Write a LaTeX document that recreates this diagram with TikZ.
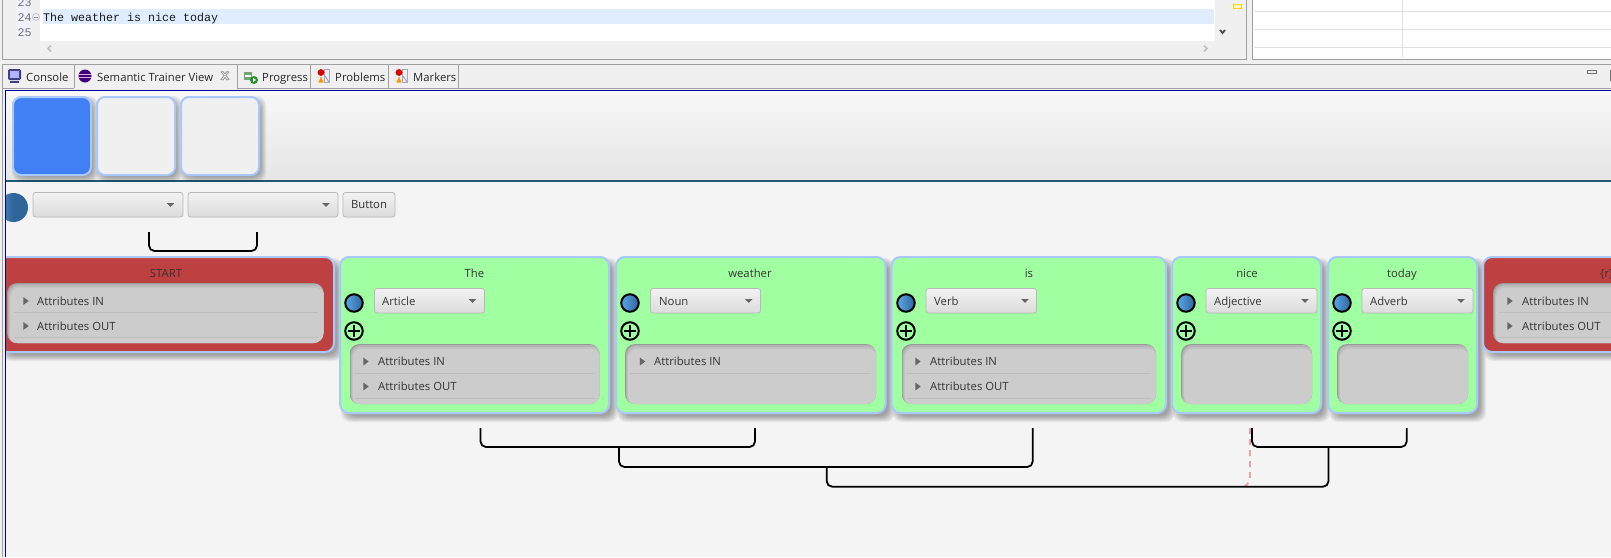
\documentclass[tikz,border=0pt]{standalone}
\usepackage{fontspec}
\setmainfont{Open Sans}
\newfontfamily\codefont{Liberation Mono}
\definecolor{panelbg}{HTML}{F0F0F0}
\definecolor{viewbg}{HTML}{F4F4F4}
\definecolor{frameg}{HTML}{A0A0A0}
\definecolor{cardgreen}{HTML}{A0FFA0}
\definecolor{cardred}{HTML}{BF4040}
\definecolor{cardline}{HTML}{A8C8FF}
\definecolor{inset}{HTML}{CCCCCC}
\definecolor{inktext}{HTML}{333333}
\definecolor{rowline}{HTML}{BDBDBD}
\definecolor{tileblue}{HTML}{4080F4}
\definecolor{ballhi}{HTML}{5AA6EA}
\definecolor{balllo}{HTML}{30659A}
\definecolor{toolline}{HTML}{1F5A70}
\definecolor{notepink}{HTML}{E8A0A0}
\tikzset{
  ui/.style={font=\fontsize{11.3}{13}\selectfont,text=inktext,inner sep=0pt},
  tabtext/.style={font=\fontsize{11.3}{13}\selectfont,text=black!85,inner sep=0pt,anchor=base west},
  boxbase/.style={inner sep=0pt,outer sep=0pt,anchor=north west},
  greencard/.style={boxbase,draw=cardline,line width=2pt,fill=cardgreen,rounded corners=9pt},
  redcard/.style={boxbase,draw=cardline,line width=2pt,fill=cardred,rounded corners=9pt},
  tile/.style={boxbase,draw=cardline,line width=2pt,rounded corners=8pt},
  combo/.style={boxbase,draw=black!28,line width=.8pt,rounded corners=2.5pt,top color=black!5,bottom color=black!14},
  link/.style={draw=black,line width=1.8pt,rounded corners=5.5pt},
  rednote/.style={draw=notepink,line width=1.8pt,dash pattern=on 6pt off 5pt},
  bullet/.style={circle,draw=black,line width=2pt,inner sep=0pt,minimum size=17.5pt,left color=ballhi,right color=balllo},
  plusmark/.style={circle,draw=black,line width=2pt,inner sep=0pt,minimum size=17.5pt},
  tiptri/.style={fill=black!60},
}
\newcommand{\softshadow}[5]{% x1 y1 x2 y2 offset
  \foreach \s in {4,3,2,1,0,-1,-2}{
    \fill[black,fill opacity=.055,rounded corners=9pt]
      ({#1+#5-\s},{#2+#5-\s}) rectangle ({#3+#5+\s},{#4+#5+\s});
  }}
\newcommand{\boxnode}[6]{% style name x1 y1 x2 y2
  \node[#1,minimum width={(#5-(#3))*1pt},minimum height={(#6-(#4))*1pt}] (#2) at (#3,#4) {};}
\newcommand{\sunken}[4]{% x1 x2 y1 y2
  \begin{scope}
    \clip[rounded corners=10pt] (#1,#3) rectangle (#2,#4);
    \fill[black!40] (#1,#3) rectangle (#2,#4);
    \fill[black!30,rounded corners=10pt] ({#1+1},{#3+1}) rectangle ({#2+2},{#4+1});
    \fill[black!25,rounded corners=10pt] ({#1+2},{#3+2.5}) rectangle ({#2+2},{#4+2});
    \fill[inset,rounded corners=10pt] ({#1+3},{#3+4.5}) rectangle ({#2+1},{#4+2});
  \end{scope}}
\newcommand{\attrrow}[6]{% name triangle-x text-x row-x2 y label
  \fill[tiptri] ({#2-2.7},{#5-4}) -- ({#2+2.7},#5) -- ({#2-2.7},{#5+4}) -- cycle;
  \node[ui,anchor=base west] (#1) at (#3,{#5+4}) {#6};}
\newcommand{\rowrule}[3]{\draw[rowline,line width=1pt] (#1,#3) -- (#2,#3);}
\newcommand{\combobox}[7]{% name x1 x2 y1 y2 label arrow-x
  \boxnode{combo}{#1}{#2}{#4}{#3}{#5}
  \fill[black!60] ({#7-3.8},{(#4+#5)/2-1.7}) -- ({#7+3.8},{(#4+#5)/2-1.7}) -- (#7,{(#4+#5)/2+2.2}) -- cycle;}
\newcommand{\comboword}[4]{\node[ui,anchor=base west] (#1) at (#2,{#3+4}) {#4};}
\newcommand{\ctrls}[2]{% name cx
  \node[bullet] (#1dot) at (#2,303) {};
  \node[plusmark] (#1plus) at (#2,331) {};
  \draw[black,line width=1.8pt] ({#2-6},331) -- ({#2+6},331) ({#2},325) -- ({#2},337);}
\newcommand{\problemicon}[1]{% left x
  \fill[black!7] (#1,68) rectangle ({#1+15},83);
  \draw[blue!25!black!35,line width=1pt] ({#1+9.5},69) rectangle ({#1+14},82);
  \draw[blue!25!black!35,line width=1pt] ({#1+10},76) -- ({#1+14},82);
  \fill[red!85!black] ({#1+6},72.5) circle (3.4);
  \fill[orange!85!yellow] ({#1+3.5},82.5) -- ({#1+6},76.5) -- ({#1+8.5},82.5) -- cycle;
}
\begin{document}
\begin{tikzpicture}[x=1pt,y=-1pt]
\useasboundingbox (0,0) rectangle (1611,557);
\begin{scope}
\clip (0,0) rectangle (1611,557);
\fill[panelbg] (0,0) rectangle (1611,557);
% ---- editor
\fill[white] (40,0) rectangle (1215,41);
\fill[black!8!blue!6] (17,0) rectangle (31,39);
\fill[blue!60!cyan!12] (43,9) rectangle (1214,24);
\node[font=\codefont\fontsize{11.67}{13}\selectfont,text=black!90,inner sep=0pt,anchor=base west] (code) at (43,21) {The weather is nice today};
\node[font=\codefont\fontsize{11.67}{13}\selectfont,text=black!55,inner sep=0pt,anchor=base west] (ln23) at (17.5,6) {23};
\node[font=\codefont\fontsize{11.67}{13}\selectfont,text=black!55,inner sep=0pt,anchor=base west] (ln24) at (17.5,21) {24};
\node[font=\codefont\fontsize{11.67}{13}\selectfont,text=black!55,inner sep=0pt,anchor=base west] (ln25) at (17.5,36) {25};
\draw[black!35!blue!25,fill=black!5,line width=.8pt] (36,17) circle (3.5);
\draw[black!45,line width=.8pt] (34,17) -- (38,17);
\draw[black!25,line width=1.6pt] (51,45.5) -- (48,48.5) -- (51,51.5);
\draw[black!25,line width=1.6pt] (1204,45.5) -- (1207,48.5) -- (1204,51.5);
\draw[black!70,line width=1.8pt] (1220,30) -- (1222.5,33) -- (1225,30);
\draw[yellow!70!orange,fill=yellow!25,line width=.8pt] (1233.5,4.3) rectangle (1241.5,8.7);
\draw[frameg,line width=1pt] (2.5,-2) -- (2.5,59.5) -- (1246.5,59.5) -- (1246.5,-2);
% ---- table
\fill[white] (1252,0) rectangle (1611,59);
\draw[black!12,line width=1pt] (1254,11.5) -- (1611,11.5) (1254,29.5) -- (1611,29.5) (1254,47.5) -- (1611,47.5) (1402.5,0) -- (1402.5,57);
\draw[frameg,line width=1pt] (1252,-2) -- (1252,59.5) -- (1613,59.5);
% ---- tab strip
\draw[frameg,line width=1pt] (2.5,88) -- (2.5,64.5) -- (1613,64.5);
\draw[frameg,line width=1pt] (2.5,88) -- (74,88) (74,65) -- (74,88) (237.5,65) -- (237.5,88) -- (1613,88);
\draw[frameg,line width=1pt] (310.5,65) -- (310.5,88) (388.5,65) -- (388.5,88) (458.5,65) -- (458.5,88);
\node[tabtext] (tconsole) at (26,81) {Console};
\node[tabtext] (tsem) at (97,81) {Semantic Trainer View};
\node[tabtext] (tprog) at (262,81) {Progress};
\node[tabtext] (tprob) at (335,81) {Problems};
\node[tabtext] (tmark) at (413,81) {Markers};
% console icon
\fill[blue!35!black!75,rounded corners=1.5pt] (8,69) rectangle (21,80);
\fill[blue!30!white] (10,71) rectangle (19,78);
\fill[blue!35!black!75] (10,81) rectangle (19,83);
% eclipse icon
\fill[violet!70!blue!75!black] (85,76) circle (6.5);
\draw[white!70!violet,line width=.8pt] (79,74.5) -- (91,74.5) (79,77) -- (91,77);
% close x
\draw[black!40,line width=.8pt] (221,72) -- (224,75.5) -- (221,79.5) -- (223,80) -- (225,77.5) -- (227,80) -- (229,79.5) -- (226,75.5) -- (229,72) -- (227,71.5) -- (225,74) -- (223,71.5) -- cycle;
% progress icon
\fill[green!35!black!55] (244,72) rectangle (252,80);
\fill[white] (245,75) rectangle (251,77);
\fill[green!50!black!85] (254,80) circle (4);
\fill[white] (253,78) -- (256,80) -- (253,82) -- cycle;
\problemicon{315}
\problemicon{393}
% view-menu icons
\draw[black!55,line width=1pt] (1587.5,70.5) rectangle (1596.5,73.5);
\draw[black!55,line width=1pt] (1610.5,70.5) rectangle (1613,80);
% ---- main view
\fill[viewbg] (6,90) rectangle (1611,557);
\shade[top color=black!3,bottom color=black!10] (6,91) rectangle (1611,180);
\draw[blue!60!black,line width=1.3pt] (5.5,90.2) -- (1611,90.2);
\draw[toolline,line width=1.4pt] (6,181) -- (1611,181);
% ---- tiles
\softshadow{13}{97}{91}{175}{3}
\boxnode{tile,fill=tileblue}{tileA}{13}{97}{91}{175}
\softshadow{97}{97}{175}{175}{3}
\boxnode{tile,fill=panelbg}{tileB}{97}{97}{175}{175}
\softshadow{181}{97}{259}{175}{3}
\boxnode{tile,fill=panelbg}{tileC}{181}{97}{259}{175}
% ---- filter row
\begin{scope}
\clip (6.5,180) rectangle (40,230);
\shade[left color=ballhi!55!balllo,right color=balllo,middle color=balllo] (13.5,207.5) circle (14.5);
\end{scope}
\combobox{fa}{33}{183}{192.5}{217}{}{170.5}
\combobox{fb}{188}{338}{192.5}{217}{}{326}
\boxnode{combo}{fbtn}{343}{192.5}{395}{217}
\node[ui] (btn) at (fbtn.center) {Button};
\coordinate (t1) at (149,232);
\coordinate (tm) at (200,251);
\coordinate (t2) at (257,232);
\draw[link] (t1) |- (tm) -| (t2);
% ---- START
\begin{scope}
\clip (6,250) rectangle (342,365);
\softshadow{0}{257}{334}{352}{5}
\boxnode{redcard}{cstart}{-5}{257}{334}{352}
\sunken{7}{323.5}{283}{343}
\end{scope}
\node[ui,anchor=base] (tstart) at (166,277) {START};
\rowrule{14}{318}{312}
\rowrule{14}{318}{337}
\attrrow{sa}{26}{37}{318}{301}{Attributes IN}
\attrrow{sb}{26}{37}{318}{326}{Attributes OUT}
% ---- The
\softshadow{340}{257}{609}{413}{5}
\boxnode{greencard}{cthe}{340}{257}{609}{413}
\node[ui,anchor=base] (tthe) at (474.5,277) {The};
\ctrls{the}{354}
\combobox{cbthe}{374.5}{484.5}{288.5}{313}{}{472.5}
\comboword{wthe}{382}{301}{Article}
\sunken{349.5}{599.5}{344}{404}
\rowrule{355}{595}{373.7}
\rowrule{355}{595}{398.5}
\attrrow{ta}{366}{378}{595}{361.5}{Attributes IN}
\attrrow{tb}{366}{378}{595}{386.5}{Attributes OUT}
% ---- weather
\softshadow{616}{257}{885.5}{413}{5}
\boxnode{greencard}{cweather}{616}{257}{885.5}{413}
\node[ui,anchor=base] (tweather) at (750,277) {weather};
\ctrls{wea}{630}
\combobox{cbwea}{650.5}{760.5}{288.5}{313}{}{748.7}
\comboword{wwea}{659}{301}{Noun}
\sunken{625}{876}{344}{404}
\rowrule{630}{871}{373.7}
\attrrow{wa}{642.5}{654}{871}{361.5}{Attributes IN}
% ---- is
\softshadow{891.5}{257}{1166}{413}{5}
\boxnode{greencard}{cis}{891.5}{257}{1166}{413}
\node[ui,anchor=base] (tis) at (1029,277) {is};
\ctrls{is}{906}
\combobox{cbis}{926}{1036.5}{288.5}{313}{}{1025}
\comboword{wis}{934}{301}{Verb}
\sunken{901.5}{1156}{344}{404}
\rowrule{907}{1151}{373.7}
\rowrule{907}{1151}{398.5}
\attrrow{ia}{918}{930}{1151}{361.5}{Attributes IN}
\attrrow{ib}{918}{930}{1151}{386.5}{Attributes OUT}
% ---- nice
\softshadow{1172}{257}{1321}{413}{5}
\boxnode{greencard}{cnice}{1172}{257}{1321}{413}
\node[ui,anchor=base] (tnice) at (1247,277) {nice};
\ctrls{nic}{1186}
\combobox{cbnic}{1206}{1317}{288.5}{313}{}{1305}
\comboword{wnic}{1214}{301}{Adjective}
\sunken{1181}{1312}{344}{404}
% ---- today
\softshadow{1328}{257}{1477}{413}{5}
\boxnode{greencard}{ctoday}{1328}{257}{1477}{413}
\node[ui,anchor=base] (ttoday) at (1402,277) {today};
\ctrls{tod}{1342}
\combobox{cbtod}{1362}{1473}{288.5}{313}{}{1461}
\comboword{wtod}{1370}{301}{Adverb}
\sunken{1337}{1468}{344}{404}
% ---- {r}
\softshadow{1483}{257}{1660}{352}{5}
\boxnode{redcard}{cend}{1483}{257}{1660}{352}
\node[ui,anchor=base west] (tend) at (1600,277) {\{r\}};
\sunken{1493}{1650}{283}{343}
\rowrule{1499}{1640}{312}
\rowrule{1499}{1640}{337}
\attrrow{ea}{1510}{1522}{1640}{301}{Attributes IN}
\attrrow{eb}{1510}{1522}{1640}{326}{Attributes OUT}
% ---- links
\coordinate (a1) at (480.5,428);
\coordinate (j1) at (619,447);
\coordinate (a2) at (755,428);
\coordinate (b2) at (1032.7,428);
\coordinate (j2) at (826.7,467);
\coordinate (c1) at (1252,428);
\coordinate (c2) at (1406.7,428);
\coordinate (j3) at (1328.5,447);
\coordinate (jb) at (1100,486.7);
\coordinate (r1) at (1250,428);
\coordinate (r2) at (1244,486.5);
\draw[rednote] (r1) -- (1250,476) .. controls (1250,481) and (1248,485) .. (r2);
\draw[link] (a1) |- (j1) -| (a2);
\draw[link] (j1) |- (j2) -| (b2);
\draw[link] (j2) |- (jb) -| (j3);
\draw[link] (c1) |- (j3) -| (c2);
% ---- left frame on top
\draw[blue!65!black,line width=1.5pt] (5.7,90) -- (5.7,557);
\draw[frameg,line width=1pt] (2.5,88) -- (2.5,557);
\end{scope}
\end{tikzpicture}
\end{document}
